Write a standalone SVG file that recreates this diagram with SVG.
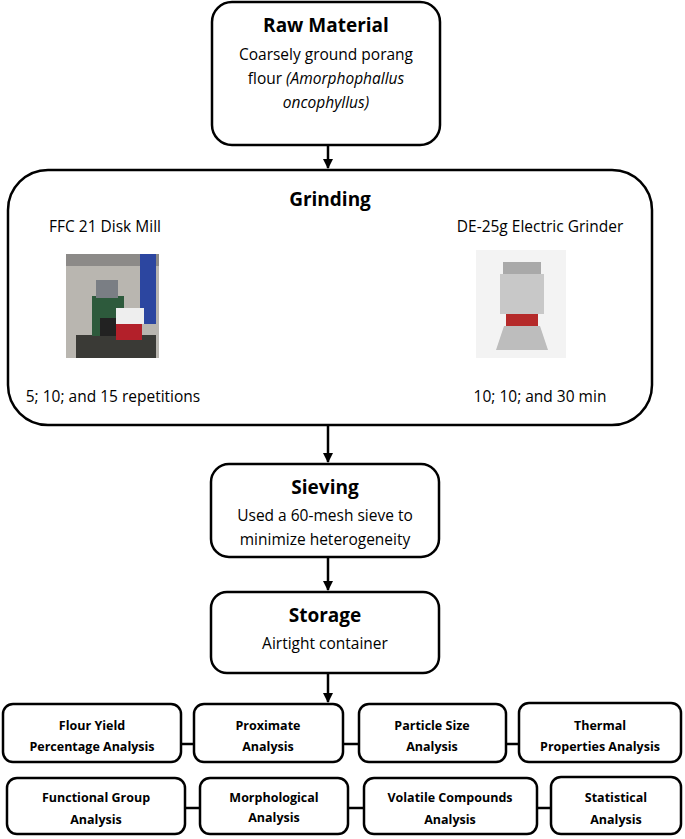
<svg xmlns="http://www.w3.org/2000/svg" width="685" height="839" viewBox="0 0 685 839">
<defs>
<marker id="ah" markerWidth="10" markerHeight="10" refX="9" refY="5" orient="auto" markerUnits="userSpaceOnUse"><path d="M0,0 L10,5 L0,10 Z" fill="#000"/></marker>
<style>
.box{fill:#fff;stroke:#000;stroke-width:2.5}
.t{font-family:"Open Sans",sans-serif;fill:#000;text-anchor:middle}
.h{font-weight:bold;font-size:19px}
.b{font-size:15.5px}
.s{font-weight:bold;font-size:12.5px}
.c{stroke:#000;stroke-width:2.5;fill:none}
</style>
</defs>
<rect width="685" height="839" fill="#fff"/>
<g id="connectors">
<line class="c" x1="328" y1="145" x2="328" y2="168" marker-end="url(#ah)"/>
<line class="c" x1="328" y1="425" x2="328" y2="462" marker-end="url(#ah)"/>
<line class="c" x1="328" y1="557" x2="328" y2="590" marker-end="url(#ah)"/>
<line class="c" x1="328" y1="673" x2="328" y2="702" marker-end="url(#ah)"/>
<line class="c" x1="181" y1="744" x2="194" y2="744"/>
<line class="c" x1="343" y1="744" x2="359" y2="744"/>
<line class="c" x1="506" y1="744" x2="519" y2="744"/>
<line class="c" x1="185" y1="808" x2="200" y2="808"/>
<line class="c" x1="348" y1="808" x2="364" y2="808"/>
<line class="c" x1="537" y1="808" x2="551" y2="808"/>
</g>
<g id="raw">
<rect class="box" x="212" y="2" width="228" height="143" rx="20"/>
<text class="t h" x="326" y="32">Raw Material</text>
<text class="t b" x="326" y="60">Coarsely ground porang</text>
<text class="t b" x="326" y="84">flour <tspan font-style="italic">(Amorphophallus</tspan></text>
<text class="t b" x="326" y="108" font-style="italic">oncophyllus)</text>
</g>
<g id="grinding">
<rect class="box" x="8" y="170" width="644" height="255" rx="40"/>
<text class="t h" x="330" y="206">Grinding</text>
<text class="t b" x="105" y="232">FFC 21 Disk Mill</text>
<text class="t b" x="540" y="232">DE-25g Electric Grinder</text>
<text class="t b" x="113" y="402">5; 10; and 15 repetitions</text>
<text class="t b" x="540" y="402">10; 10; and 30 min</text>
<g id="photo1">
<rect x="66" y="254" width="93" height="104" fill="#b9b6b0"/>
<rect x="66" y="254" width="93" height="12" fill="#8c8a88"/>
<rect x="140" y="254" width="16" height="70" fill="#2c46a0"/>
<rect x="76" y="335" width="80" height="23" fill="#3a3a36"/>
<rect x="92" y="296" width="32" height="40" fill="#2d5a3c"/>
<rect x="96" y="280" width="22" height="18" fill="#7a7e84"/>
<rect x="116" y="308" width="28" height="16" fill="#eeeeee"/>
<rect x="116" y="324" width="26" height="16" fill="#b3202a"/>
<rect x="100" y="318" width="16" height="18" fill="#222"/>
</g>
<g id="photo2">
<rect x="476" y="250" width="90" height="108" fill="#f3f3f3"/>
<rect x="503" y="262" width="38" height="12" fill="#a9a9a9"/>
<rect x="500" y="274" width="44" height="40" fill="#c8c8c8"/>
<rect x="506" y="314" width="32" height="12" fill="#b52a2a"/>
<path d="M504,326 L540,326 L548,350 L496,350 Z" fill="#bdbdbd"/>
</g>
</g>
<g id="sieving">
<rect class="box" x="211" y="464" width="228" height="93" rx="18"/>
<text class="t h" x="325" y="494">Sieving</text>
<text class="t b" x="325" y="521">Used a 60-mesh sieve to</text>
<text class="t b" x="325" y="545">minimize heterogeneity</text>
</g>
<g id="storage">
<rect class="box" x="211" y="592" width="228" height="81" rx="16"/>
<text class="t h" x="325" y="622">Storage</text>
<text class="t b" x="325" y="649">Airtight container</text>
</g>
<g id="n1"><rect class="box" x="3" y="704" width="178" height="58" rx="10"/><text class="t s" x="92" y="730">Flour Yield</text><text class="t s" x="92" y="751">Percentage Analysis</text></g>
<g id="n2"><rect class="box" x="194" y="704" width="149" height="58" rx="10"/><text class="t s" x="268" y="730">Proximate</text><text class="t s" x="268" y="751">Analysis</text></g>
<g id="n3"><rect class="box" x="359" y="704" width="147" height="58" rx="10"/><text class="t s" x="432" y="730">Particle Size</text><text class="t s" x="432" y="751">Analysis</text></g>
<g id="n4"><rect class="box" x="519" y="703" width="162" height="59" rx="10"/><text class="t s" x="600" y="730">Thermal</text><text class="t s" x="600" y="751">Properties Analysis</text></g>
<g id="n5"><rect class="box" x="7" y="778" width="178" height="56" rx="10"/><text class="t s" x="96" y="802">Functional Group</text><text class="t s" x="96" y="824">Analysis</text></g>
<g id="n6"><rect class="box" x="200" y="778" width="148" height="56" rx="10"/><text class="t s" x="274" y="802">Morphological</text><text class="t s" x="274" y="822">Analysis</text></g>
<g id="n7"><rect class="box" x="364" y="778" width="173" height="56" rx="10"/><text class="t s" x="450" y="802">Volatile Compounds</text><text class="t s" x="450" y="824">Analysis</text></g>
<g id="n8"><rect class="box" x="551" y="777" width="130" height="57" rx="10"/><text class="t s" x="616" y="802">Statistical</text><text class="t s" x="616" y="824">Analysis</text></g>
</svg>
